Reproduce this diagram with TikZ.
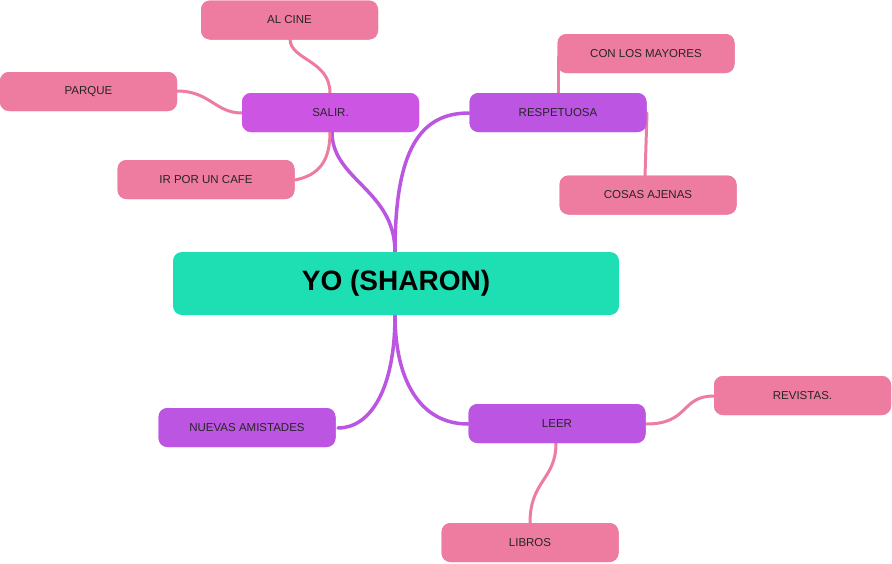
\documentclass[tikz,border=0pt]{standalone}
\usepackage{fontspec}
\setmainfont{Liberation Sans}
\begin{document}
\begin{tikzpicture}[x=1pt,y=-1pt,
  box/.style={rounded corners=9pt,minimum width=177pt,minimum height=39pt,inner sep=0pt,font=\fontsize{11.5}{12}\selectfont,text=black!85},
  pinkbox/.style={box,fill=pinkc},
  purbox/.style={box,fill=purc},
  pl/.style={draw=purl,line width=3.5pt,line cap=round},
  kl/.style={draw=pinkl,line width=3pt,line cap=round}]
\definecolor{pinkc}{HTML}{EE7BA0}
\definecolor{pinkl}{HTML}{EE7BA0}
\definecolor{purc}{HTML}{BB55E2}
\definecolor{salc}{HTML}{CC55E4}
\definecolor{purl}{HTML}{BB55E2}
\definecolor{cen}{HTML}{1EDFB4}
\useasboundingbox (0,0) rectangle (892,563);
\coordinate (ct) at (395,252);
\coordinate (cb) at (395,315);
% connectors drawn first
\node[pinkbox] (cine) at (289.5,20) {AL CINE};
\node[pinkbox] (parque) at (88.5,91.5) {PARQUE};
\node[pinkbox] (cafe) at (206,179.5) {IR POR UN CAFE};
\node[pinkbox] (mayores) at (646,53.5) {CON LOS MAYORES};
\node[pinkbox] (ajenas) at (648,195) {COSAS AJENAS};
\node[pinkbox] (revistas) at (802.5,395.5) {REVISTAS.};
\node[pinkbox] (libros) at (530,542.5) {LIBROS};
\node[box,fill=salc] (salir) at (330.5,112.5) {SALIR.};
\node[purbox] (resp) at (558,112.5) {RESPETUOSA};
\node[purbox] (leer) at (557,423.5) {LEER};
\node[purbox] (nuevas) at (247,427.5) {NUEVAS AMISTADES};
\begin{scope}[on background layer/.try]
\end{scope}
\draw[pl] (ct) .. controls (395,190) and (332,180) .. (332,132);
\draw[pl] (ct) .. controls (395,150) and (420,113) .. (469,113);
\draw[pl] (cb) .. controls (395,390) and (370,428) .. (338,428);
\draw[pl] (cb) .. controls (395,380) and (420,424) .. (468,424);
\draw[kl] (290,39) .. controls (290,60) and (330,60) .. (330,93);
\draw[kl] (177,91) .. controls (210,91) and (215,113) .. (242,113);
\draw[kl] (295,180) .. controls (320,175) and (330,160) .. (330,132);
\draw[kl] (558,57) -- (558,93);
\draw[kl] (647,113) -- (645,176);
\draw[kl] (646,424) .. controls (690,424) and (680,396) .. (714,396);
\draw[kl] (556,443) .. controls (556,480) and (530,480) .. (530,523);
% redraw boxes on top
\node[pinkbox] at (cine) {AL CINE};
\node[pinkbox] at (parque) {PARQUE};
\node[pinkbox] at (cafe) {IR POR UN CAFE};
\node[pinkbox] at (mayores) {CON LOS MAYORES};
\node[pinkbox] at (ajenas) {COSAS AJENAS};
\node[pinkbox] at (revistas) {REVISTAS.};
\node[pinkbox] at (libros) {LIBROS};
\node[box,fill=salc] at (salir) {SALIR.};
\node[purbox] at (resp) {RESPETUOSA};
\node[purbox] at (leer) {LEER};
\node[purbox] at (nuevas) {NUEVAS AMISTADES};
\node[box,fill=cen,minimum width=446pt,minimum height=63pt,font=\fontsize{28}{30}\selectfont\bfseries,text=black] (yo) at (396,283.5) {YO (SHARON)};
\end{tikzpicture}
\end{document}
